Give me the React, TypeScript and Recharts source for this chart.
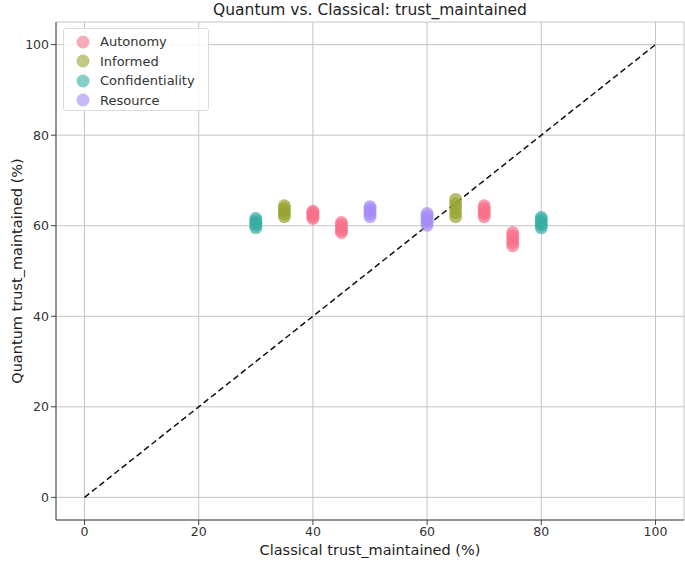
import {
  ScatterChart,
  Scatter,
  XAxis,
  YAxis,
  CartesianGrid,
  ReferenceLine,
} from "recharts";

const ticks = [0, 20, 40, 60, 80, 100];

const autonomyX = [40, 40, 40, 40, 40, 45, 45, 45, 45, 45, 70, 70, 70, 70, 70, 75, 75, 75, 75, 75];
const autonomyY = [61.6, 62.0, 62.4, 62.8, 63.2, 58.5, 59.0, 59.6, 60.2, 60.7, 62.0, 62.6, 63.2, 63.8, 64.4, 55.6, 56.3, 57.0, 57.8, 58.5];

const informedX = [35, 35, 35, 35, 35, 65, 65, 65, 65, 65];
const informedY = [62.0, 62.6, 63.2, 63.8, 64.4, 62.0, 62.9, 63.9, 64.8, 65.8];

const confidentialityX = [30, 30, 30, 30, 30, 80, 80, 80, 80, 80];
const confidentialityY = [59.6, 60.1, 60.6, 61.1, 61.6, 59.6, 60.2, 60.7, 61.3, 61.8];

const resourceX = [50, 50, 50, 50, 50, 60, 60, 60, 60, 60];
const resourceY = [62.0, 62.6, 63.1, 63.7, 64.2, 60.1, 60.8, 61.4, 62.1, 62.7];

const toPoints = (xs: number[], ys: number[]) => xs.map((x, i) => ({ x, y: ys[i] }));

const series = [
  { name: "Autonomy", color: "#f77189", data: toPoints(autonomyX, autonomyY) },
  { name: "Informed", color: "#97a431", data: toPoints(informedX, informedY) },
  { name: "Confidentiality", color: "#36ada4", data: toPoints(confidentialityX, confidentialityY) },
  { name: "Resource", color: "#a48cf4", data: toPoints(resourceX, resourceY) },
];

const font = "'DejaVu Sans', sans-serif";

// legend drawn as an overlay so it doesn't eat plot space
const LegendBox = () => (
  <div
    style={{
      position: "absolute",
      left: 63,
      top: 28,
      width: 146,
      height: 83,
      boxSizing: "border-box",
      border: "1px solid #dcdcdc",
      borderRadius: 3,
      background: "rgba(255,255,255,0.85)",
      padding: "3px 0 0 12px",
      fontFamily: font,
      fontSize: 13,
      color: "#333",
    }}
  >
    {series.map((s) => (
      <div key={s.name} style={{ display: "flex", alignItems: "center", height: 19.5 }}>
        <svg width={14} height={14} style={{ marginRight: 10 }}>
          <circle cx={7} cy={7} r={6.5} fill={s.color} fillOpacity={0.6} />
        </svg>
        <span>{s.name}</span>
      </div>
    ))}
  </div>
);

const App = () => {
  return (
    <div style={{ position: "absolute", left: 0, top: 0, width: 685, height: 563, background: "#fff" }}>
      <div
        style={{
          position: "absolute",
          left: 56,
          width: 628,
          top: 1,
          textAlign: "center",
          fontFamily: font,
          fontSize: 15.5,
          color: "#222",
        }}
      >
        Quantum vs. Classical: trust_maintained
      </div>
      <ScatterChart width={685} height={563} margin={{ top: 22, right: 1, left: 0, bottom: 0 }}>
        <CartesianGrid stroke="#c4c4c4" strokeWidth={1} />
        <XAxis
          type="number"
          dataKey="x"
          domain={[-5, 105]}
          ticks={ticks}
          height={43}
          tickSize={5}
          stroke="#444"
          tick={{ fill: "#333", fontSize: 12.5, fontFamily: font }}
          label={{
            value: "Classical trust_maintained (%)",
            position: "insideBottom",
            offset: 8,
            style: { fill: "#222", fontSize: 14.5, fontFamily: font },
          }}
        />
        <XAxis xAxisId="top" orientation="top" type="number" domain={[-5, 105]} height={0} tick={false} tickLine={false} stroke="#444" />
        <YAxis
          type="number"
          dataKey="y"
          domain={[-5, 105]}
          ticks={ticks}
          width={56}
          tickSize={5}
          stroke="#444"
          tick={{ fill: "#333", fontSize: 12.5, fontFamily: font }}
          label={{
            value: "Quantum trust_maintained (%)",
            angle: -90,
            position: "insideLeft",
            offset: 17,
            style: { fill: "#222", fontSize: 14.5, fontFamily: font, textAnchor: "middle" },
          }}
        />
        <YAxis yAxisId="right" orientation="right" type="number" domain={[-5, 105]} width={0} tick={false} tickLine={false} stroke="#444" />
        <ReferenceLine
          segment={[{ x: 0, y: 0 }, { x: 100, y: 100 }]}
          stroke="#111"
          strokeWidth={1.5}
          strokeDasharray="6 3.5"
        />
        {series.map((s) => (
          <Scatter
            key={s.name}
            name={s.name}
            data={s.data}
            isAnimationActive={false}
            shape={(p: any) => <circle cx={p.cx} cy={p.cy} r={6.5} fill={s.color} fillOpacity={0.7} />}
          />
        ))}
      </ScatterChart>
      <LegendBox />
    </div>
  );
};

export default App;
